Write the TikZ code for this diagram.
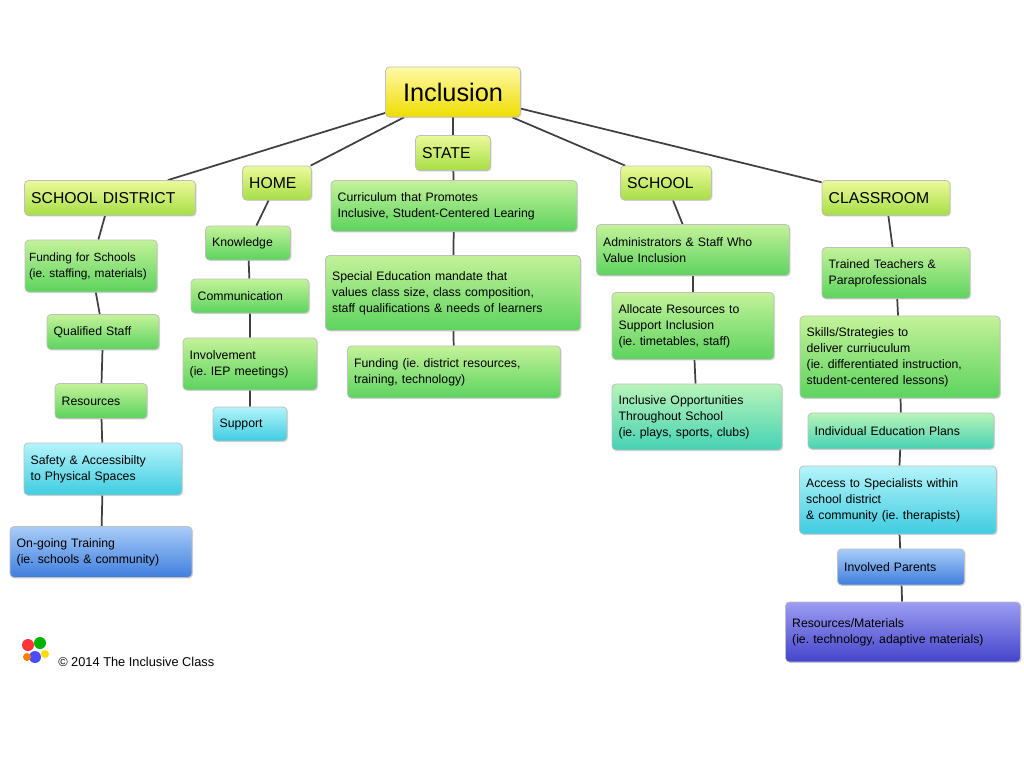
\documentclass[tikz,border=0pt]{standalone}
\usepackage{fontspec}
\setmainfont{Liberation Sans}
\usetikzlibrary{shadows,backgrounds}
\definecolor{gT}{HTML}{C4F29A}\definecolor{gB}{HTML}{5CD35E}
\definecolor{yT}{HTML}{ECF99A}\definecolor{yB}{HTML}{A6DE45}
\definecolor{cT}{HTML}{B4F4FA}\definecolor{cB}{HTML}{3ECCE0}
\definecolor{tT}{HTML}{B8F4B8}\definecolor{tB}{HTML}{46D2B4}
\definecolor{bT}{HTML}{A8CCF8}\definecolor{bB}{HTML}{3F7EDE}
\definecolor{pT}{HTML}{9C9CF2}\definecolor{pB}{HTML}{4444CC}
\definecolor{iT}{HTML}{FFF9A8}\definecolor{iB}{HTML}{EEDD00}
\tikzset{
 box/.style={rounded corners=3pt,draw=black!25,line width=0.6pt,drop shadow={opacity=0.25,shadow xshift=0.8pt,shadow yshift=-0.8pt},
   align=left,font=\fontsize{9.2}{12}\selectfont,inner sep=0pt},
 gbox/.style={box,top color=gT,bottom color=gB},
 ybox/.style={box,top color=yT,bottom color=yB,font=\fontsize{11.8}{14}\selectfont},
 cbox/.style={box,top color=cT,bottom color=cB},
 tbox/.style={box,top color=tT,bottom color=tB},
 bbox/.style={box,top color=bT,bottom color=bB},
 pbox/.style={box,top color=pT,bottom color=pB},
 sz/.style 2 args={minimum width=#1*0.75pt,minimum height=#2*0.75pt,text width=#1*0.75pt-10pt},
 ln/.style={draw=black!75,line width=1.3pt}
}
\begin{document}
\frenchspacing\hyphenpenalty=10000\relax
\begin{tikzpicture}[x=0.75pt,y=-0.75pt]
\node[box,top color=iT,bottom color=iB,sz={135}{50},align=center,font=\fontsize{19}{22}\selectfont] (inc) at (453,92) {Inclusion};
\node[ybox,sz={171}{35}] (sd) at (110,198) {SCHOOL DISTRICT};
\node[ybox,sz={69}{34}] (home) at (277,183) {HOME};
\node[ybox,sz={75}{35}] (state) at (453,153) {STATE};
\node[ybox,sz={91}{34}] (school) at (666,183) {SCHOOL};
\node[ybox,sz={128}{35}] (cls) at (886,198) {CLASSROOM};
% school district
\node[gbox,sz={132}{52},text width=93pt,font=\fontsize{8.9}{12}\selectfont] (sd1) at (91,266) {Funding for Schools\\(ie. staffing, materials)};
\node[gbox,sz={112}{35}] (sd2) at (103,332) {Qualified Staff};
\node[gbox,sz={92}{35}] (sd3) at (101,401) {Resources};
\node[cbox,sz={158}{52}] (sd4) at (103,469) {Safety \& Accessibilty\\to Physical Spaces};
\node[bbox,sz={182}{51}] (sd5) at (101,552) {On-going Training\\(ie. schools \& community)};
% home
\node[gbox,sz={85}{34}] (h1) at (248,243) {Knowledge};
\node[gbox,sz={118}{34}] (h2) at (250,296) {Communication};
\node[gbox,sz={134}{52}] (h3) at (250,364) {Involvement\\(ie. IEP meetings)};
\node[cbox,sz={74}{34}] (h4) at (250,424) {Support};
% state
\node[gbox,sz={246}{51}] (s1) at (454,206) {Curriculum that Promotes\\Inclusive, Student-Centered Learing};
\node[gbox,sz={255}{75}] (s2) at (453,293) {Special Education mandate that\\values class size, class composition,\\staff qualifications \& needs of learners};
\node[gbox,sz={213}{52}] (s3) at (454,372) {Funding (ie. district resources,\\training, technology)};
% school
\node[gbox,sz={193}{51}] (sc1) at (693,250) {Administrators \& Staff Who\\Value Inclusion};
\node[gbox,sz={162}{67}] (sc2) at (693,326) {Allocate Resources to\\Support Inclusion\\(ie. timetables, staff)};
\node[tbox,sz={170}{66}] (sc3) at (697,417) {Inclusive Opportunities\\Throughout School\\(ie. plays, sports, clubs)};
% classroom
\node[gbox,sz={148}{51}] (c1) at (896,273) {Trained Teachers \&\\Paraprofessionals};
\node[gbox,sz={200}{82}] (c2) at (900,357) {Skills/Strategies to\\deliver curriuculum\\(ie. differentiated instruction,\\student-centered lessons)};
\node[tbox,sz={186}{36}] (c3) at (901,431) {Individual Education Plans};
\node[cbox,sz={197}{68}] (c4) at (898,500) {Access to Specialists within\\school district\\\& community (ie. therapists)};
\node[bbox,sz={127}{36}] (c5) at (901,567) {Involved Parents};
\node[pbox,sz={235}{60}] (c6) at (903,632) {Resources/Materials\\(ie. technology, adaptive materials)};
% footer
\node[font=\fontsize{9.6}{12}\selectfont,anchor=west,inner sep=0pt] (cp) at (58,662) {© 2014 The Inclusive Class};
\fill[red!80] (28,645) circle (4.5pt);\fill[green!70!black] (40,643) circle (4.5pt);
\fill[blue!70] (35,657) circle (4.5pt);\fill[orange] (27,657) circle (3pt);\fill[yellow!80!orange] (45,654) circle (3pt);
\begin{scope}[on background layer]
\useasboundingbox[fill=white] (0,0) rectangle (1024,768);
\foreach \a in {sd,home,state,school,cls} \draw[ln] (inc) -- (\a);
\draw[ln] (sd) -- (sd1) -- (sd2) -- (sd3) -- (sd4) -- (sd5);
\draw[ln] (home) -- (h1) -- (h2) -- (h3) -- (h4);
\draw[ln] (state) -- (s1) -- (s2) -- (s3);
\draw[ln] (school) -- (sc1) -- (sc2) -- (sc3);
\draw[ln] (cls) -- (c1) -- (c2) -- (c3) -- (c4) -- (c5) -- (c6);
\end{scope}
\end{tikzpicture}
\end{document}
